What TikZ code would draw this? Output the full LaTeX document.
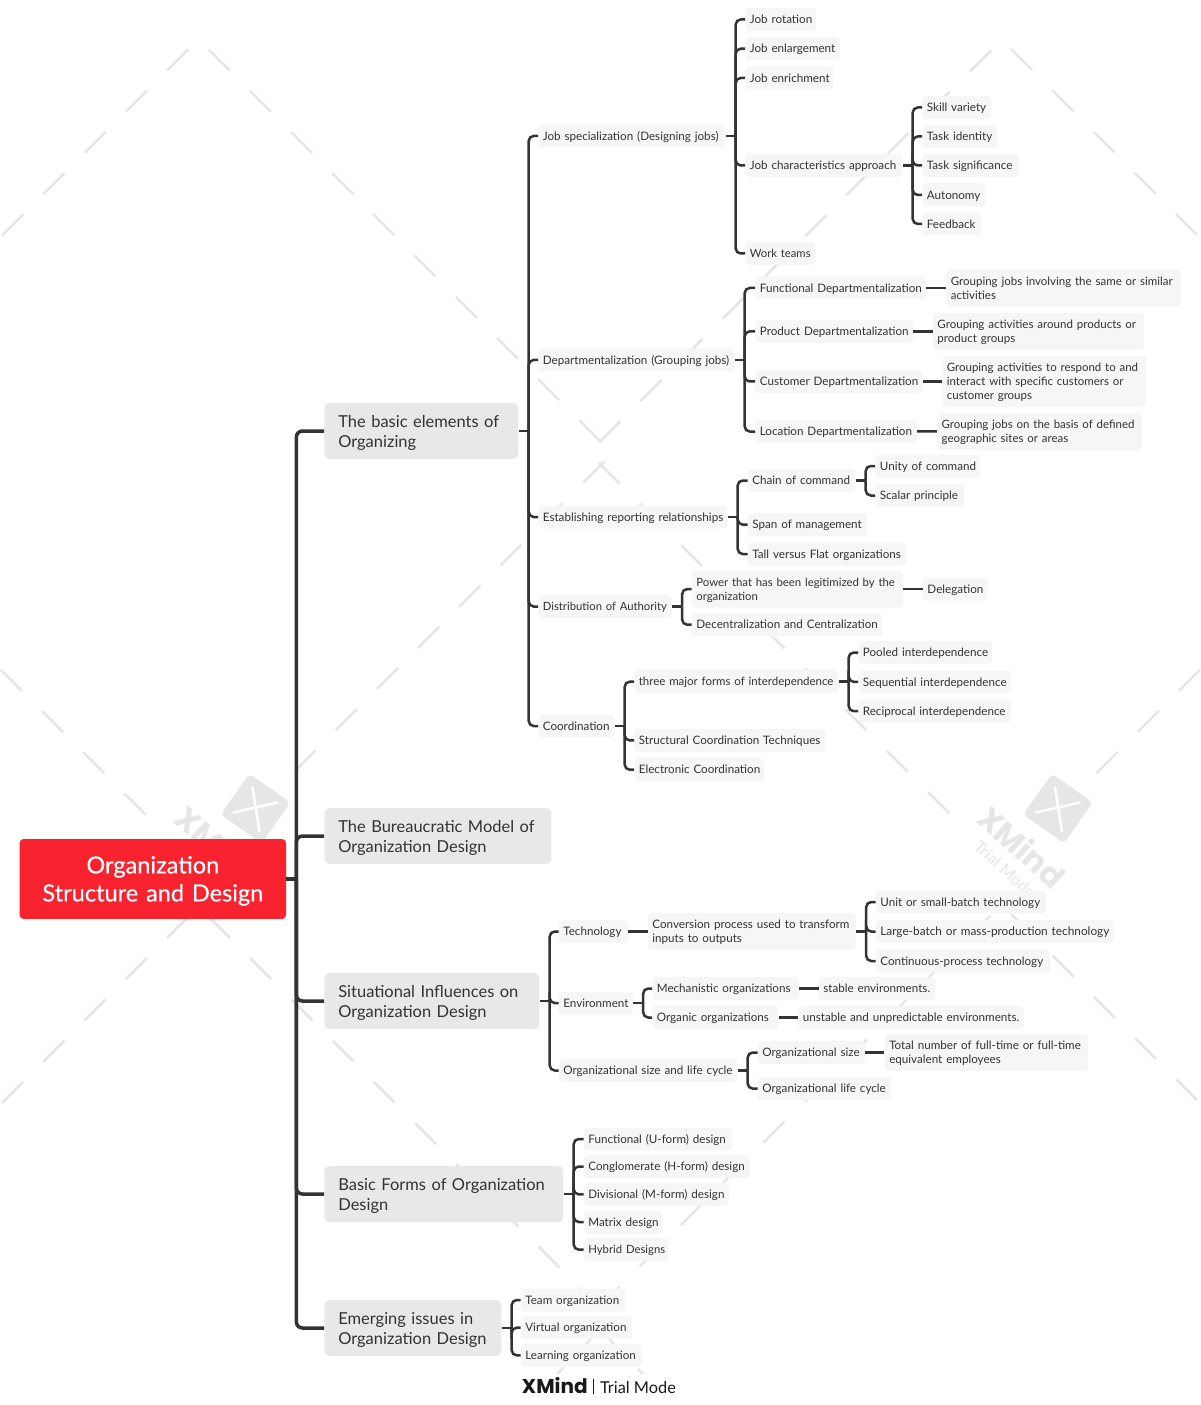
\documentclass[tikz,border=0pt]{standalone}
\usepackage{fontspec}
\setmainfont{Lato}
\newfontfamily\markfont{Poppins}
\definecolor{rootred}{HTML}{F9222F}
\definecolor{topicbg}{HTML}{E8E8E8}
\definecolor{leafbg}{HTML}{F6F6F6}
\definecolor{ink}{HTML}{333333}
\definecolor{wmgray}{HTML}{E6E6E6}
\newcommand\lowstrut[1]{\rule[-#1\baselineskip]{0pt}{\baselineskip}}
\tikzset{
	leaf/.style={anchor=west, fill=leafbg, text=ink, rounded corners=0.08cm, inner xsep=0.09cm, inner ysep=0.09cm, align=left, text width={(#1-9)*0.02cm}, font=\fontsize{6.63}{7.97}\selectfont, execute at begin node=\lowstrut{.2}, execute at end node=\lowstrut{.2}},
	sized/.style={font=\fontsize{#1}{7.97}\selectfont},
	topic/.style={anchor=west, fill=topicbg, text=ink, rounded corners=0.1cm, inner xsep=0.28cm, inner ysep=0.16cm, align=left, text width={(#1-28)*0.02cm}, font=\fontsize{9.37}{11.38}\selectfont, execute at begin node=\lowstrut{.17}, execute at end node=\lowstrut{.17}},
	rootbox/.style={anchor=west, fill=rootred, text=white, rounded corners=0.08cm, inner xsep=0cm, inner ysep=0.24cm, align=center, text width={#1*0.02cm}, font=\fontsize{13.4}{15.93}\selectfont\addfontfeature{FakeBold=0.3}, execute at begin node=\lowstrut{.2}, execute at end node=\lowstrut{.2}},
	link/.style={draw=ink, line width=0.05cm, rounded corners=0.1cm},
	mainlink/.style={draw=ink, line width=0.07cm, rounded corners=0.12cm},
	wmline/.style={draw=wmgray, line width=0.05cm},
	wmbig/.style={text=wmgray, rotate=-42, font=\markfont\fontsize{18}{20}\selectfont\bfseries},
	wmsmall/.style={text=wmgray, rotate=-42, font=\fontsize{9.3}{10}\selectfont},
}
\newcommand\branch[3][link]{\draw[#1] (#2.east) -- ++(10,0);
	\foreach \kid in {#3} {\draw[#1] (#2.east) ++(10,0) |- (\kid.west);}}
\newcommand\dashdown[3]{\foreach \i in {0,...,#3} {\draw[wmline] ({#1+41.2*\i},{#2+41.2*\i}) -- ++(21,21);}}
\newcommand\dashup[3]{\foreach \i in {0,...,#3} {\draw[wmline] ({#1-41.2*\i},{#2+41.2*\i}) -- ++(-21,21);}}
\begin{document}
\begin{tikzpicture}[x=0.02cm,y=-0.02cm]
	\useasboundingbox (0,0) rectangle (1200,1405);
	%%%%% WATERMARK %%%%%
	\dashdown{208.6}{49.5}{9}
	\dashdown{598.5}{462.5}{8}
	\dashdown{1011.5}{914.5}{4}
	\dashdown{1011.2}{49}{4}
	\dashdown{0.8}{670}{3}
	\dashdown{209}{917}{9}
	\dashdown{598}{1328}{0}
	\dashup{188}{49.5}{4}
	\dashup{991}{50.5}{9}
	\dashup{604}{462}{7}
	\dashup{188}{917}{4}
	\dashup{990.4}{915.6}{9}
	\dashup{1200}{669.5}{3}
	\dashup{601}{1329}{0}
	\draw[wmline] (563,1368) -- (557,1374);
	\draw[wmline] (638,1369) -- (643,1374);
	\foreach \wx/\wn in {255.5/a, 1058/b} {
		\begin{scope}[shift={(\wx,808.5)}]
			\fill[wmgray, rounded corners=0.09cm, rotate=-35] (-25,-25) rectangle (25,25);
			\draw[white, line width=0.05cm, line cap=round] (-3,-21) -- (4,23);
			\draw[white, line width=0.05cm, line cap=round] (-22,4) -- (22,-6);
			\node[wmbig] (wmname\wn) at (-36,38) {XMind};
		\end{scope}
	}
	\node[wmsmall] (wmtrial) at (1005,869.5) {Trial Mode};
	%%%%% NODES %%%%%
	\node[rootbox=266.4] (root) at (19.3,879) {Organization\\Structure and Design};
	\node[topic=194] (basic) at (324,431) {The basic elements of\\Organizing};
	\node[topic=227] (bureau) at (324,836) {The Bureaucratic Model of\\Organization Design};
	\node[topic=215] (situ) at (324,1001) {Situational Influences on\\Organization Design};
	\node[topic=239] (forms) at (324,1194) {Basic Forms of Organization\\Design};
	\node[topic=177] (emerging) at (324,1328) {Emerging issues in\\\mbox{Organization Design}};
	
	\node[leaf=187] (jobspec) at (538,136) {\mbox{Job specialization (Designing jobs)}};
	\node[leaf=196] (dept) at (538,360) {\mbox{Departmentalization (Grouping jobs)}};
	\node[leaf=189] (report) at (538,517) {\mbox{Establishing reporting relationships}};
	\node[leaf=133.5, sized=6.42] (author) at (538,606.5) {\mbox{Distribution of Authority}};
	\node[leaf=76] (coord) at (538,726) {Coordination};
	
	\node[leaf=71] (jobrot) at (745,19.5) {\mbox{Job rotation}};
	\node[leaf=95] (jobenl) at (745,48.7) {\mbox{Job enlargement}};
	\node[leaf=88] (jobenr) at (745,78) {\mbox{Job enrichment}};
	\node[leaf=157] (jobchar) at (745,165.5) {\mbox{Job characteristics approach}};
	\node[leaf=70, sized=6.42] (jobteam) at (745,253.5) {\mbox{Work teams}};
	\node[leaf=69] (skill) at (922,107.5) {\mbox{Skill variety}};
	\node[leaf=75] (taskid) at (922,136.5) {\mbox{Task identity}};
	\node[leaf=97] (tasksig) at (922,165.5) {\mbox{Task significance}};
	\node[leaf=63] (autonomy) at (922,195) {Autonomy};
	\node[leaf=59] (feedback) at (922,224) {Feedback};
	
	\node[leaf=170.5] (funcdept) at (755,288) {\mbox{Functional Departmentalization}};
	\node[leaf=157.5] (proddept) at (755,331.4) {\mbox{Product Departmentalization}};
	\node[leaf=167] (custdept) at (755,381.5) {\mbox{Customer Departmentalization}};
	\node[leaf=161.5] (locdept) at (755,431.5) {\mbox{Location Departmentalization}};
	\node[leaf=234.5, sized=6.55] (funcnote) at (946,288) {\mbox{Grouping jobs involving the same or similar}\\activities};
	\node[leaf=211.5, sized=6.57] (prodnote) at (932.6,331.4) {\mbox{Grouping activities around products or}\\product groups};
	\node[leaf=203.7, sized=6.53] (custnote) at (942,381.5) {\mbox{Grouping activities to respond to and}\\\mbox{interact with specific customers or}\\customer groups};
	\node[leaf=205.2, sized=6.53] (locnote) at (936.8,431.4) {\mbox{Grouping jobs on the basis of defined}\\geographic sites or areas};
	
	\node[leaf=107.5] (chain) at (747.5,480.5) {\mbox{Chain of command}};
	\node[leaf=119.5] (span) at (747.5,524.6) {\mbox{Span of management}};
	\node[leaf=158] (tall) at (747.5,554) {\mbox{Tall versus Flat organizations}};
	\node[leaf=104.5] (unity) at (875,466) {\mbox{Unity of command}};
	\node[leaf=89] (scalar) at (875,495.5) {\mbox{Scalar principle}};
	
	\node[leaf=211, sized=6.47] (power) at (691.5,589) {\mbox{Power that has been legitimized by the}\\organization};
	\node[leaf=190.5] (decentr) at (691.5,624.7) {\mbox{Decentralization and Centralization}};
	\node[leaf=64.7] (deleg) at (922.6,589) {Delegation};
	
	\node[leaf=204, sized=6.53] (three) at (634,681.7) {\mbox{three major forms of interdependence}};
	\node[leaf=191] (struct) at (634,740.4) {\mbox{Structural Coordination Techniques}};
	\node[leaf=130] (electr) at (634,769.7) {\mbox{Electronic Coordination}};
	\node[leaf=134] (pooled) at (858,652.5) {\mbox{Pooled interdependence}};
	\node[leaf=153] (seq) at (858,681.8) {\mbox{Sequential interdependence}};
	\node[leaf=152.5] (recip) at (858,711.2) {\mbox{Reciprocal interdependence}};
	
	\node[leaf=69] (tech) at (558.5,931.5) {Technology};
	\node[leaf=74] (envir) at (558.5,1003) {Environment};
	\node[leaf=178.5] (orgsize) at (558.5,1070.5) {\mbox{Organizational size and life cycle}};
	\node[leaf=208] (conv) at (647.5,931.5) {\mbox{Conversion process used to transform}\\inputs to outputs};
	\node[leaf=170.5] (unit) at (875.5,902) {\mbox{Unit or small-batch technology}};
	\node[leaf=238, sized=6.72] (large) at (875.5,931.5) {\mbox{Large-batch or mass-production technology}};
	\node[leaf=174] (contin) at (875.5,961) {\mbox{Continuous-process technology}};
	\node[leaf=146.5] (mech) at (652,988.5) {\mbox{Mechanistic organizations}};
	\node[leaf=126] (organic) at (652,1017.5) {\mbox{Organic organizations}};
	\node[leaf=116.5] (stable) at (818.5,988.5) {\mbox{stable environments.}};
	\node[leaf=225.6] (unstable) at (798,1017.5) {\mbox{unstable and unpredictable environments.}};
	\node[leaf=107] (ossize) at (757.5,1052.5) {\mbox{Organizational size}};
	\node[leaf=133.5] (oslife) at (757.5,1088.6) {\mbox{Organizational life cycle}};
	\node[leaf=203.7] (total) at (884.4,1052.5) {\mbox{Total number of full-time or full-time}\\equivalent employees};
	
	\node[leaf=148] (uform) at (583.5,1139) {\mbox{Functional (U-form) design}};
	\node[leaf=166.5] (hform) at (583.5,1166.5) {\mbox{Conglomerate (H-form) design}};
	\node[leaf=145] (mform) at (583.5,1194.3) {\mbox{Divisional (M-form) design}};
	\node[leaf=78.5] (matrix) at (583.5,1222) {\mbox{Matrix design}};
	\node[leaf=84.5, sized=6.45] (hybrid) at (583.5,1249.6) {\mbox{Hybrid Designs}};
	
	\node[leaf=104.5] (team) at (520.5,1300) {\mbox{Team organization}};
	\node[leaf=111.5] (virtual) at (520.5,1327.7) {\mbox{Virtual organization}};
	\node[leaf=121] (learning) at (520.5,1355.3) {\mbox{Learning organization}};
	
	\node[text=black!90, font=\markfont\fontsize{11.4}{12}\selectfont\bfseries] (xmindmark) at (554.8,1386) {XMind};
	\node[text=black!90, font=\fontsize{9.3}{10}\selectfont] (trialmark) at (638,1387.5) {Trial Mode};
	\draw[black!90, line width=0.025cm] (593.5,1379) -- (593.5,1394);
	%%%%% LINKS %%%%%
	\branch[mainlink]{root}{basic,bureau,situ,forms,emerging}
	\branch{basic}{jobspec,dept,report,author,coord}
	\branch{jobspec}{jobrot,jobenl,jobenr,jobchar,jobteam}
	\branch{jobchar}{skill,taskid,tasksig,autonomy,feedback}
	\branch{dept}{funcdept,proddept,custdept,locdept}
	\draw[link] (funcdept) -- (funcnote);
	\draw[link] (proddept) -- (prodnote);
	\draw[link] (custdept) -- (custnote);
	\draw[link] (locdept) -- (locnote);
	\branch{report}{chain,span,tall}
	\branch{chain}{unity,scalar}
	\branch{author}{power,decentr}
	\draw[link] (power) -- (deleg);
	\branch{coord}{three,struct,electr}
	\branch{three}{pooled,seq,recip}
	\branch{situ}{tech,envir,orgsize}
	\draw[link] (tech) -- (conv);
	\branch{conv}{unit,large,contin}
	\branch{envir}{mech,organic}
	\draw[link] (mech) -- (stable);
	\draw[link] (organic) -- (unstable);
	\branch{orgsize}{ossize,oslife}
	\draw[link] (ossize) -- (total);
	\branch{forms}{uform,hform,mform,matrix,hybrid}
	\branch{emerging}{team,virtual,learning}
\end{tikzpicture}
\end{document}
